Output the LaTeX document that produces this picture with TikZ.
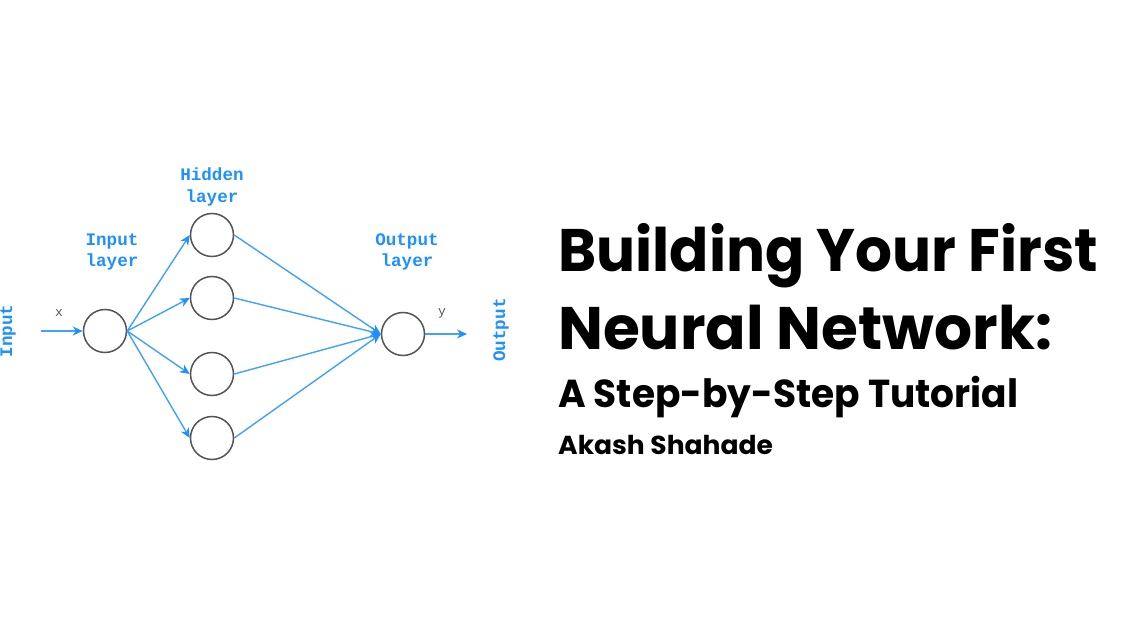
\documentclass[tikz,border=0pt]{standalone}
\usepackage{fontspec}
\setmainfont{Poppins}
\newfontfamily\labelfont{Liberation Mono}
\definecolor{netblue}{HTML}{1E90FF}
\definecolor{ringgray}{HTML}{555555}
\usetikzlibrary{arrows.meta}
\tikzset{
  neuron/.style = {circle, draw=ringgray, line width=1.5pt, fill=white, minimum size=43pt, inner sep=0pt},
  wire/.style = {draw=netblue!85, line width=1.4pt, -{Stealth[length=10pt,width=9pt,color=netblue]}},
  layertext/.style = {font=\labelfont\bfseries\fontsize{17.6}{21.5}\selectfont, text=netblue, align=center, inner sep=0pt},
  vartext/.style = {font=\labelfont\fontsize{13}{14}\selectfont, text=ringgray, inner sep=0pt},
  title/.style = {font=\bfseries\fontsize{60}{70}\selectfont, anchor=base west, inner sep=0pt}
}
\begin{document}
\begin{tikzpicture}[x=1pt, y=-1pt]
        \useasboundingbox (0,0) rectangle (1144,644);
        \fill[white] (0,0) rectangle (1144,644);
        \node[neuron] (input) at (105,331) {};
        \node[neuron] (hiddena) at (212,235) {};
        \node[neuron] (hiddenb) at (212,298) {};
        \node[neuron] (hiddenc) at (212,374) {};
        \node[neuron] (hiddend) at (212,438) {};
        \node[neuron] (output) at (403,334) {};
        \coordinate (xstart) at (41,331);
        \coordinate (yend) at (467,334);
        \draw[wire] (xstart) -- (input.west);
        \draw[wire] (input.east) -- (hiddena.west);
        \draw[wire] (input.east) -- (hiddenb.west);
        \draw[wire] (input.east) -- (hiddenc.west);
        \draw[wire] (input.east) -- (hiddend.west);
        \draw[wire] (hiddena.east) -- (output.west);
        \draw[wire] (hiddenb.east) -- (output.west);
        \draw[wire] (hiddenc.east) -- (output.west);
        \draw[wire] (hiddend.east) -- (output.west);
        \draw[wire] (output.east) -- (yend);
        \node[layertext, rotate=90] (inputtext) at (8,331) {Input};
        \node[layertext, rotate=90] (outputtext) at (501,330) {Output};
        \node[layertext] (inputlayer) at (112,252) {Input\\layer};
        \node[layertext] (hiddenlayer) at (212,187) {Hidden\\layer};
        \node[layertext] (outputlayer) at (407,252) {Output\\layer};
        \node[vartext] (xlabel) at (59,313) {x};
        \node[vartext] (ylabel) at (442,313) {y};
        \node[title, xscale=.966] (titlea) at (558,272) {Building Your First};
        \node[title, xscale=.996] (titleb) at (558,350) {Neural Network:};
        \node[title, xscale=.962, font=\bfseries\fontsize{39}{45}\selectfont] (titlec) at (558,408) {A Step-by-Step Tutorial};
        \node[title, xscale=1.02, font=\bfseries\fontsize{26}{30}\selectfont] (author) at (558,454) {Akash Shahade};
      \end{tikzpicture}
\end{document}
